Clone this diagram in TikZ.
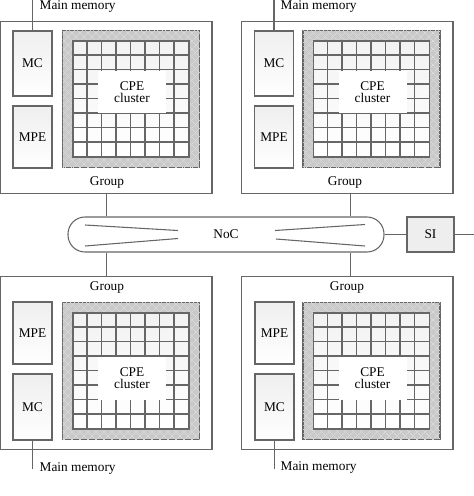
\documentclass[tikz,border=0pt]{standalone}
\usepackage{fontspec}
\setmainfont{Liberation Serif}
\usetikzlibrary{positioning,calc,patterns.meta}
\definecolor{linegray}{gray}{0.4}
\newcommand{\px}[1]{#1*0.75pt}
\tikzset{
	link/.style={draw=linegray,line width=0.8pt},
	groupbox/.style={link,minimum width=\px{211.5},minimum height=\px{172.5},inner sep=0},
	pebox/.style={link,top color=gray!13,bottom color=white,minimum width=\px{39},inner sep=0},
	cpeborder/.style={link,fill=gray!42,minimum size=\px{137},inner sep=0,
		postaction={pattern color=gray!30,pattern={Lines[angle=45,distance=4pt,line width=0.4pt]}},
		postaction={pattern color=gray!30,pattern={Lines[angle=-45,distance=4pt,line width=0.4pt]}}},
	cpegrid/.style={link,top color=gray!10,bottom color=white,minimum size=\px{116},inner sep=0},
	cpehole/.style={fill=white,minimum width=\px{68},minimum height=\px{42.5},inner sep=0,
		align=center,font=\fontsize{10}{9}\selectfont},
}
\newcommand{\drawgroup}{\node[groupbox]}
\newcommand{\drawpe}{\node[pebox]}
% name, x, y, shift of the hole in cells
\newcommand{\cpecluster}[4]{%
	\node[cpeborder] (#1) at (#2,#3) {};
	\node[cpegrid] (#1g) at (#2,#3) {};
	\foreach \k in {1,...,7} {
		\draw[link] ($(#1g.north west)+(\k*14.5,0)$) -- ($(#1g.south west)+(\k*14.5,0)$);
		\draw[link] ($(#1g.north west)+(0,\k*14.5)$) -- ($(#1g.north east)+(0,\k*14.5)$);
	}
	\node[cpehole] (#1h) at ($(#1g)+(1,#4*14.5)$) {CPE\\cluster};
}

\begin{document}
\begin{tikzpicture}[x=0.75pt,y=-0.75pt]
	\useasboundingbox (0,0) rectangle (474,496);
	
	% top groups
	\drawgroup (tl) at (106.25,107.5) {};
	\drawpe[minimum height=\px{65}] (tlmc) at (32.5,63.5) {MC};
	\drawpe[minimum height=\px{62}] (tlmpe) at (32.5,137) {MPE};
	\cpecluster{tlcpe}{131}{99}{-0.5}
	\node (tllab) at (107,183) {Group};
	
	\drawgroup (tr) at (347.25,107.5) {};
	\drawpe[minimum height=\px{65}] (trmc) at (274,63.5) {MC};
	\drawpe[minimum height=\px{62}] (trmpe) at (274,137) {MPE};
	\cpecluster{trcpe}{371.5}{99}{-0.5}
	\node (trlab) at (345,183) {Group};
	
	% bottom groups
	\drawgroup (bl) at (106.25,363) {};
	\drawpe[minimum height=\px{62}] (blmpe) at (32.5,333) {MPE};
	\drawpe[minimum height=\px{66}] (blmc) at (32.5,407) {MC};
	\cpecluster{blcpe}{131}{371}{0.5}
	\node (bllab) at (107,288) {Group};
	
	\drawgroup (br) at (347.25,363) {};
	\drawpe[minimum height=\px{62}] (brmpe) at (274.5,333) {MPE};
	\drawpe[minimum height=\px{66}] (brmc) at (274.5,407) {MC};
	\cpecluster{brcpe}{371.5}{371}{0.5}
	\node (brlab) at (347,288) {Group};
	
	% main memory
	\coordinate (tlmem) at (tlmc.north |- 0,0);
	\coordinate (trmem) at (trmc.north |- 0,0);
	\coordinate (blmem) at (blmc.south |- 0,469);
	\coordinate (brmem) at (brmc.south |- 0,469);
	\node[anchor=west] (tlmemlab) at (35,7) {Main memory};
	\node[anchor=west] (trmemlab) at (276,7) {Main memory};
	\node[anchor=west] (blmemlab) at (35,469) {Main memory};
	\node[anchor=west] (brmemlab) at (276,468) {Main memory};
	\draw[link] (tlmc) -- (tlmem);
	\draw[link] (trmc) -- (trmem);
	\draw[link] (blmc) -- (blmem);
	\draw[link] (brmc) -- (brmem);
	
	% network
	\node[link,rounded corners=\px{17},minimum width=\px{316},minimum height=\px{35}] (noc) at (226,234.5) {NoC};
	\node[link,fill=gray!13,minimum width=\px{47},minimum height=\px{35}] (si) at (430.5,234.5) {SI};
	\coordinate (siout) at (474,234.5);
	\draw[link] ($(noc.center)+(-141,-9.5)$) -- ($(noc.center)+(-48,-4)$);
	\draw[link] ($(noc.center)+(-141,11.5)$) -- ($(noc.center)+(-48,4)$);
	\draw[link] ($(noc.center)+(49,-4)$) -- ($(noc.center)+(139,-10)$);
	\draw[link] ($(noc.center)+(50,4.5)$) -- ($(noc.center)+(139,11.5)$);
	
	\coordinate (trbus) at ($(tr.south)+(3,0)$);
	\coordinate (brbus) at ($(br.north)+(3,0)$);
	\draw[link] (tl.south) -- (tl.south |- noc.north);
	\draw[link] (trbus) -- (trbus |- noc.north);
	\draw[link] (bl.north) -- (bl.north |- noc.south);
	\draw[link] (brbus) -- (brbus |- noc.south);
	\draw[link] (noc) -- (si);
	\draw[link] (si) -- (siout);
	
\end{tikzpicture}
\end{document}
